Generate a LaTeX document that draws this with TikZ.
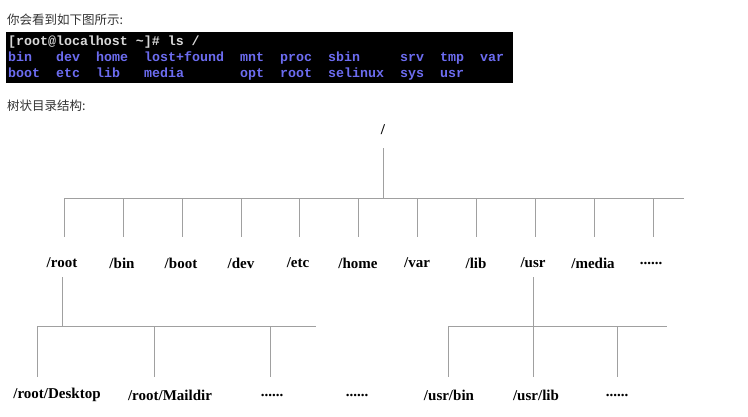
\documentclass[tikz,border=0pt]{standalone}
\usepackage{fontspec}
\setmainfont{Liberation Serif}
\newfontfamily\cjk{Noto Sans CJK SC}
\newfontfamily\mono{Liberation Mono}
\newcommand\mydots{......}
\definecolor{termblue}{HTML}{6C6CF0}
\definecolor{termwhite}{HTML}{D8D8D8}
\definecolor{ln}{HTML}{A0A0A0}
\tikzset{
  dir/.style={font=\fontsize{15}{17}\selectfont\bfseries, inner sep=0pt},
  cn/.style={font=\cjk\fontsize{12.5}{14}\selectfont, text=black!80, anchor=west, inner sep=0pt},
  tl/.style={font=\mono\bfseries\fontsize{13.3}{14}\selectfont, anchor=base west, inner sep=0pt},
  br/.style={draw=ln, line width=0.8pt}
}
\begin{document}
\begin{tikzpicture}[x=1pt,y=-1pt]
\useasboundingbox[fill=white] (0,0) rectangle (748,416);
\node[cn] (t1) at (7,20) {你会看到如下图所示:};
\fill[black] (6,32) rectangle (513,83);
\node[tl,text=termwhite] (p) at (8,45) {[root@localhost \textasciitilde]\# ls /};
\foreach \c/\w [count=\i] in {0/bin,6/dev,11/home,17/lost+found,29/mnt,34/proc,40/sbin,49/srv,54/tmp,59/var}
  \node[tl,text=termblue] (a\i) at (8+8*\c,61) {\w};
\foreach \c/\w [count=\i] in {0/boot,6/etc,11/lib,17/media,29/opt,34/root,40/selinux,49/sys,54/usr}
  \node[tl,text=termblue] (b\i) at (8+8*\c,77) {\w};
\node[cn] (t2) at (7,106) {树状目录结构:};
\node[dir] (root) at (383,130) {/};
\coordinate (rb) at (383,198);
\draw[br] (383,148) -- (rb);
\draw[br] (64,198) -- (684,198);
\foreach \x/\lx/\t [count=\i] in {64/62/root,123/122/bin,182/181/boot,241/241/dev,299/298/etc,358/358/home,417/417/var,476/476/lib,535/533/usr,594/593/media}{
  \node[dir] (c\i) at (\lx,263) {/\t};
  \draw[br] (\x,198) -- (\x,237);
}
\node[dir] (c11) at (651,263) {\mydots};
\draw[br] (653,198) -- (653,237);
\draw[br] (62,277) -- (62,326);
\draw[br] (37,326) -- (316,326);
\draw[br] (533,277) -- (533,326);
\draw[br] (448,326) -- (667,326);
\foreach \x in {37,154,270,448,533,617} \draw[br] (\x,326) -- (\x,377);
\node[dir] (d1) at (57,395) {/root/Desktop};
\node[dir] (d2) at (170,395) {/root/Maildir};
\node[dir] (d3) at (272,395) {\mydots};
\node[dir] (d4) at (357,395) {\mydots};
\node[dir] (d5) at (449,395) {/usr/bin};
\node[dir] (d6) at (536,395) {/usr/lib};
\node[dir] (d7) at (617,395) {\mydots};
\end{tikzpicture}
\end{document}
